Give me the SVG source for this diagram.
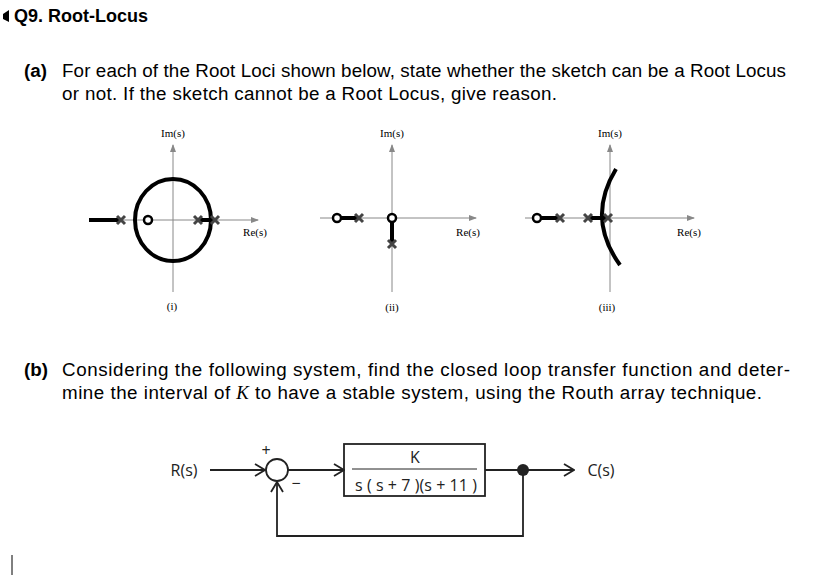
<svg xmlns="http://www.w3.org/2000/svg" width="818" height="576" viewBox="0 0 818 576">
<defs>
<marker id="ga" markerWidth="8" markerHeight="6" refX="7" refY="3" orient="auto" markerUnits="userSpaceOnUse"><path d="M0,0 L8,3 L0,6 z" fill="#888"/></marker>
<marker id="oa" markerWidth="12" markerHeight="14" refX="11" refY="7" orient="auto" markerUnits="userSpaceOnUse"><path d="M1,1 L11,7 L1,13" fill="none" stroke="#222" stroke-width="1.8"/></marker>
<g id="x"><path d="M-4,-4 L4,4 M-4,4 L4,-4" stroke="#444" stroke-width="3"/></g>
</defs>
<style>
.t{font-family:"Liberation Sans",Arial,sans-serif;font-size:18.8px;fill:#000}
.s{font-family:"Liberation Serif",serif;font-size:11px;fill:#000}
.ax{stroke:#888;stroke-width:1;fill:none}
.lc{stroke:#000;stroke-width:4;fill:none}
.z{stroke:#000;stroke-width:2.5;fill:#fff}
.b{font-family:"Open Sans","DejaVu Sans",sans-serif;font-size:16px;fill:#222}
.w{stroke:#222;stroke-width:1.8;fill:none}
</style>
<rect width="818" height="576" fill="#fff"/>
<path d="M3,14 L9,10 L9,22 L3,19z" fill="#000"/>
<text x="14" y="22" class="t" style="font-weight:bold;font-size:18px">Q9. Root-Locus</text>
<text x="24" y="77" class="t" style="font-weight:bold">(a)</text>
<text x="62" y="77" class="t" textLength="724">For each of the Root Loci shown below, state whether the sketch can be a Root Locus</text>
<text x="62" y="100" class="t" textLength="495">or not. If the sketch cannot be a Root Locus, give reason.</text>
<g id="plot1">
<line x1="173" y1="292" x2="173" y2="145" class="ax" marker-end="url(#ga)"/>
<line x1="90" y1="220" x2="258" y2="220" class="ax" marker-end="url(#ga)"/>
<line x1="89" y1="220" x2="121" y2="220" class="lc"/>
<line x1="198" y1="220" x2="215" y2="220" class="lc"/>
<ellipse cx="173" cy="220" rx="38" ry="41" class="lc"/>
<use href="#x" x="121" y="220"/><use href="#x" x="198" y="220"/><use href="#x" x="215" y="220"/>
<circle cx="148" cy="220" r="4" class="z"/>
<text x="173" y="137" class="s" text-anchor="middle">Im(s)</text>
<text x="255" y="236" class="s" text-anchor="middle">Re(s)</text>
<text x="172" y="310" class="s" text-anchor="middle">(i)</text>
</g>
<g id="plot2">
<line x1="392" y1="292" x2="392" y2="145" class="ax" marker-end="url(#ga)"/>
<line x1="320" y1="218" x2="476" y2="218" class="ax" marker-end="url(#ga)"/>
<line x1="337" y1="218" x2="359" y2="218" class="lc"/>
<line x1="392" y1="218" x2="392" y2="244" class="lc"/>
<use href="#x" x="359" y="218"/><use href="#x" x="392" y="244"/>
<circle cx="337" cy="218" r="4" class="z"/><circle cx="392" cy="218" r="4" class="z"/>
<text x="392" y="137" class="s" text-anchor="middle">Im(s)</text>
<text x="468" y="236" class="s" text-anchor="middle">Re(s)</text>
<text x="392" y="311" class="s" text-anchor="middle">(ii)</text>
</g>
<g id="plot3">
<line x1="610" y1="292" x2="610" y2="145" class="ax" marker-end="url(#ga)"/>
<line x1="525" y1="218" x2="694" y2="218" class="ax" marker-end="url(#ga)"/>
<line x1="537" y1="218" x2="560" y2="218" class="lc"/>
<line x1="588" y1="218" x2="608" y2="218" class="lc"/>
<path d="M616,169 Q586,218 620,265" class="lc"/>
<use href="#x" x="560" y="218"/><use href="#x" x="588" y="218"/><use href="#x" x="608" y="218"/>
<circle cx="537" cy="218" r="4" class="z"/>
<text x="610" y="137" class="s" text-anchor="middle">Im(s)</text>
<text x="689" y="236" class="s" text-anchor="middle">Re(s)</text>
<text x="607" y="311" class="s" text-anchor="middle">(iii)</text>
</g>
<text x="24" y="376" class="t" style="font-weight:bold">(b)</text>
<text x="62" y="376" class="t" textLength="728">Considering the following system, find the closed loop transfer function and deter-</text>
<text x="62" y="399" class="t" textLength="700">mine the interval of <tspan style="font-family:'Liberation Serif',serif;font-style:italic">K</tspan> to have a stable system, using the Routh array technique.</text>
<g id="sum"><circle cx="277" cy="470" r="11" class="w"/>
<text x="266" y="456" class="b" font-size="12" text-anchor="middle">+</text>
<text x="296" y="489" class="b" text-anchor="middle">−</text></g>
<g id="plant"><rect x="344" y="444" width="141" height="52" class="w"/>
<text x="415" y="463" class="b" text-anchor="middle">K</text>
<line x1="352" y1="469" x2="477" y2="469" stroke="#222" stroke-width="1"/>
<text x="355" y="491" class="b" textLength="122">s ( s + 7 )(s + 11 )</text></g>
<text x="184" y="476" class="b" text-anchor="middle">R(s)</text>
<text x="601" y="476" class="b" text-anchor="middle">C(s)</text>
<g id="connectors">
<line x1="210" y1="470" x2="265" y2="470" class="w" marker-end="url(#oa)"/>
<line x1="288" y1="470" x2="344" y2="470" class="w" marker-end="url(#oa)"/>
<line x1="485" y1="470" x2="574" y2="470" class="w" marker-end="url(#oa)"/>
<path d="M523,470 L523,536 L277,536 L277,482" class="w" marker-end="url(#oa)"/>
<circle cx="523" cy="470" r="6" fill="#222"/>
</g>
<line x1="12" y1="555" x2="12" y2="575" stroke="#000" stroke-width="1"/>
</svg>
